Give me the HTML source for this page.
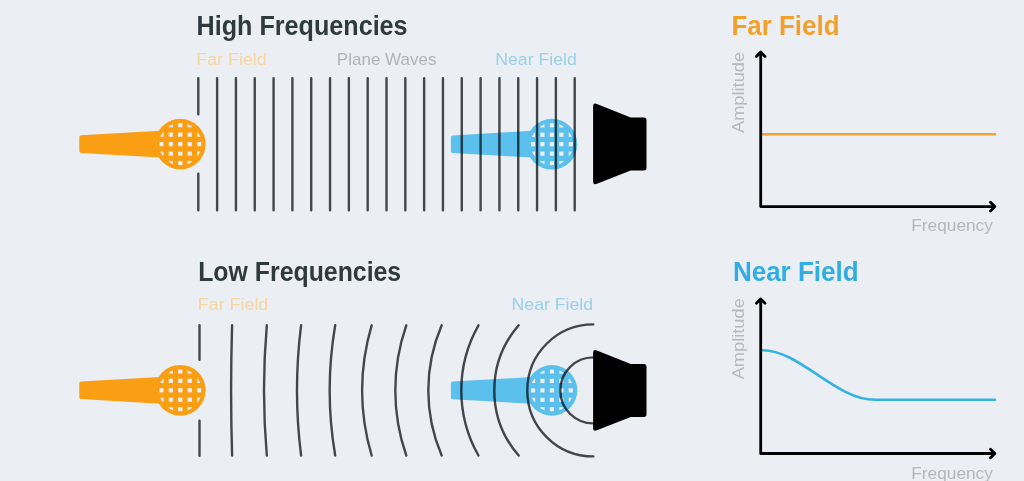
<!DOCTYPE html>
<html lang="en"><head><meta charset="utf-8"><title>Near field vs far field</title>
<style>
html,body{margin:0;padding:0;background:#ebeef3;overflow:hidden}
svg{display:block}
text{font-family:"Liberation Sans",sans-serif}
.t{font-weight:bold;font-size:27.5px}
.l{font-size:16.2px}
.a{font-size:16.9px;fill:#b5b9bd}
.w{fill:none;stroke:#43474c;stroke-width:2.4;stroke-linecap:round}
.ax{fill:none;stroke:#000;stroke-width:2.8;stroke-linecap:round;stroke-linejoin:round}
.mul{mix-blend-mode:multiply}
</style></head><body>
<svg width="1024" height="481" viewBox="0 0 1024 481">
<rect width="1024" height="481" fill="#ebeef3"/>
<defs>
<clipPath id="hc"><circle cx="0" cy="0" r="21.2"/></clipPath>
<mask id="hm" maskUnits="userSpaceOnUse" x="-110" y="-30" width="140" height="60">
<rect x="-110" y="-30" width="140" height="60" fill="#fff"/>
<g clip-path="url(#hc)" fill="#000">
<rect x="-21.00" y="-21.00" width="4.2" height="4.2"/>
<rect x="-21.00" y="-11.55" width="4.2" height="4.2"/>
<rect x="-21.00" y="-2.10" width="4.2" height="4.2"/>
<rect x="-21.00" y="7.35" width="4.2" height="4.2"/>
<rect x="-21.00" y="16.80" width="4.2" height="4.2"/>
<rect x="-11.55" y="-21.00" width="4.2" height="4.2"/>
<rect x="-11.55" y="-11.55" width="4.2" height="4.2"/>
<rect x="-11.55" y="-2.10" width="4.2" height="4.2"/>
<rect x="-11.55" y="7.35" width="4.2" height="4.2"/>
<rect x="-11.55" y="16.80" width="4.2" height="4.2"/>
<rect x="-2.10" y="-21.00" width="4.2" height="4.2"/>
<rect x="-2.10" y="-11.55" width="4.2" height="4.2"/>
<rect x="-2.10" y="-2.10" width="4.2" height="4.2"/>
<rect x="-2.10" y="7.35" width="4.2" height="4.2"/>
<rect x="-2.10" y="16.80" width="4.2" height="4.2"/>
<rect x="7.35" y="-21.00" width="4.2" height="4.2"/>
<rect x="7.35" y="-11.55" width="4.2" height="4.2"/>
<rect x="7.35" y="-2.10" width="4.2" height="4.2"/>
<rect x="7.35" y="7.35" width="4.2" height="4.2"/>
<rect x="7.35" y="16.80" width="4.2" height="4.2"/>
<rect x="16.80" y="-21.00" width="4.2" height="4.2"/>
<rect x="16.80" y="-11.55" width="4.2" height="4.2"/>
<rect x="16.80" y="-2.10" width="4.2" height="4.2"/>
<rect x="16.80" y="7.35" width="4.2" height="4.2"/>
<rect x="16.80" y="16.80" width="4.2" height="4.2"/>
</g></mask>
<g id="mic" mask="url(#hm)">
<path d="M-99.2,-8.8 Q-101,-8.8 -101,-7 L-101,7 Q-101,8.8 -99.2,8.8 L-20,13.4 L-20,-13.4 Z"/>
<circle cx="0" cy="0" r="25.4"/>
</g>
<path id="spk" d="M0,-37.4 Q0,-41.5 3.8,-39.9 L37.6,-26.5 L50.8,-26.5 Q53.4,-26.5 53.4,-23.9 L53.4,23.9 Q53.4,26.5 50.8,26.5 L37.6,26.5 L3.8,39.9 Q0,41.5 0,37.4 Z"/>
</defs>
<text class="t" x="196.6" y="34.5" fill="#2e3a40" textLength="211" lengthAdjust="spacingAndGlyphs">High Frequencies</text>
<text class="l" x="196.3" y="64.5" fill="#f6d6a0" textLength="70.4" lengthAdjust="spacingAndGlyphs">Far Field</text>
<text class="l" x="336.8" y="64.8" fill="#b0b4b9" textLength="99.7" lengthAdjust="spacingAndGlyphs">Plane Waves</text>
<text class="l" x="495.2" y="64.7" fill="#98d1e8" textLength="81.6" lengthAdjust="spacingAndGlyphs">Near Field</text>
<path class="w" d="M198.30,78.3 V114.3 M198.30,173.8 V210.3"/>
<path class="w" d="M217.12,78.3 V210.3 M235.94,78.3 V210.3 M254.76,78.3 V210.3 M273.58,78.3 V210.3 M292.40,78.3 V210.3 M311.22,78.3 V210.3 M330.04,78.3 V210.3 M348.86,78.3 V210.3 M367.68,78.3 V210.3 M386.50,78.3 V210.3 M405.32,78.3 V210.3 M424.14,78.3 V210.3 M442.96,78.3 V210.3 M461.78,78.3 V210.3 M480.60,78.3 V210.3 M499.42,78.3 V210.3 M518.24,78.3 V210.3 M537.06,78.3 V210.3 M555.88,78.3 V210.3 M574.70,78.3 V210.3"/>
<use href="#mic" x="551.90" y="144.20" fill="#63cef8" class="mul"/>
<use href="#mic" x="180.30" y="144.10" fill="#fa9e14"/>
<use href="#spk" x="593.1" y="143.9" fill="#000"/>
<text class="t" x="198.2" y="281.2" fill="#2e3a40" textLength="203" lengthAdjust="spacingAndGlyphs">Low Frequencies</text>
<text class="l" x="197.8" y="310.1" fill="#f6d6a0" textLength="70.5" lengthAdjust="spacingAndGlyphs">Far Field</text>
<text class="l" x="511.6" y="310.2" fill="#98d1e8" textLength="81.5" lengthAdjust="spacingAndGlyphs">Near Field</text>
<path class="w" d="M199.5,325.30 V359.7 M199.5,420.8 V455.70"/>
<path class="w" d="M232.10,325.30 A2119.5,2119.5 0 0 0 232.10,455.50"/>
<path class="w" d="M266.80,325.30 A758.2,758.2 0 0 0 266.80,455.50"/>
<path class="w" d="M301.10,325.30 A518.9,518.9 0 0 0 301.10,455.50"/>
<path class="w" d="M335.20,325.30 A388.0,388.0 0 0 0 335.20,455.50"/>
<path class="w" d="M371.66,325.30 A231.0,231.0 0 0 0 371.66,455.50"/>
<path class="w" d="M406.31,325.30 A198.0,198.0 0 0 0 406.31,455.50"/>
<path class="w" d="M441.69,325.30 A165.0,165.0 0 0 0 441.69,455.50"/>
<path class="w" d="M478.47,325.30 A132.0,132.0 0 0 0 478.47,455.50"/>
<path class="w" d="M518.71,325.30 A99.0,99.0 0 0 0 518.71,455.50"/>
<path class="w" d="M593.30,324.40 A66,66 0 0 0 593.30,456.40"/>
<path class="w" d="M593.30,357.40 A33,33 0 0 0 593.30,423.40"/>
<use href="#mic" x="551.90" y="390.40" fill="#63cef8" class="mul"/>
<use href="#mic" x="180.30" y="390.30" fill="#fa9e14"/>
<use href="#spk" x="593.1" y="390.4" fill="#000"/>
<text class="t" x="731.4" y="34.5" fill="#f2a02a" textLength="108.1" lengthAdjust="spacingAndGlyphs">Far Field</text>
<text class="a" transform="translate(744.1,133.0) rotate(-90)" textLength="81.1" lengthAdjust="spacingAndGlyphs">Amplitude</text>
<path d="M762.5,134.3 H995" fill="none" stroke="#eba435" stroke-width="2.6" stroke-linecap="round"/>
<path class="ax" d="M760.70,52.10 V206.60 H994.80 M756.40,56.40 L760.70,52.10 L765.00,56.40 M990.50,202.30 L994.80,206.60 L990.50,210.90"/>
<text class="a" x="911.3" y="231.4" textLength="81.6" lengthAdjust="spacingAndGlyphs">Frequency</text>
<text class="t" x="732.9" y="281.1" fill="#2fade4" textLength="125.8" lengthAdjust="spacingAndGlyphs">Near Field</text>
<text class="a" transform="translate(744.1,379.3) rotate(-90)" textLength="81.1" lengthAdjust="spacingAndGlyphs">Amplitude</text>
<path d="M762.5,350.2 C800,350.2 835,399.8 875,399.8 H995" fill="none" stroke="#35b2e4" stroke-width="2.6" stroke-linecap="round"/>
<path class="ax" d="M760.70,299.00 V453.50 H994.80 M756.40,303.30 L760.70,299.00 L765.00,303.30 M990.50,449.20 L994.80,453.50 L990.50,457.80"/>
<text class="a" x="911.3" y="479.1" textLength="81.6" lengthAdjust="spacingAndGlyphs">Frequency</text>
</svg>
</body></html>
